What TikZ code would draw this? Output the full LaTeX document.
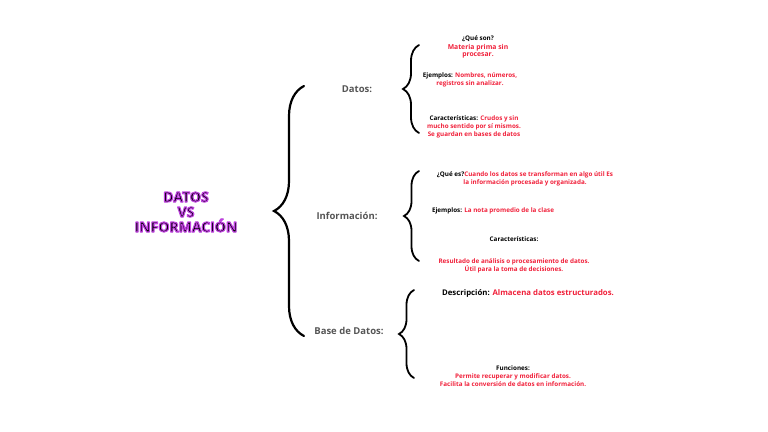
\documentclass[tikz,border=0pt]{standalone}
\usepackage{fontspec}
\setmainfont{Open Sans}
\usetikzlibrary{decorations.pathreplacing}
\definecolor{rd}{HTML}{F0203A}
\definecolor{gr}{HTML}{555555}
\definecolor{pu}{HTML}{C040E0}
\tikzset{
 br/.style={decorate,line width=2.2pt,line cap=round},
 sm/.style={font=\bfseries\fontsize{6.3}{7.8}\selectfont,align=center},
 lab/.style={font=\bfseries\fontsize{9.5}{11}\selectfont,text=gr},
 ttl/.style={font=\bfseries\fontsize{14}{15}\selectfont,align=center}
}
\newcommand{\outl}[1]{\special{pdf:literal direct q 1.1 w 1 j 2 Tr 0.75 0.25 0.88 RG 0 g}#1\special{pdf:literal direct 0 Tr Q}}
\begin{document}
\begin{tikzpicture}[x=1pt,y=-1pt]
\useasboundingbox (0,0) rectangle (768,431);
\node[ttl,text=black] (title) at (186,212) {\outl{DATOS}\\\outl{VS}\\\outl{INFORMACIÓN}};
% big brace
\draw[br,decoration={brace,amplitude=30pt,aspect=0.5}] (304,336) -- (304,86);
% small braces
\draw[br,line width=1.8pt,decoration={brace,amplitude=16pt}] (419,133) -- (419,45);
\draw[br,line width=1.8pt,decoration={brace,amplitude=15pt}] (419,261) -- (419,171);
\draw[br,line width=1.8pt,decoration={brace,amplitude=15pt}] (414,378) -- (414,290);
\node[lab] (d) at (357,89) {Datos:};
\node[lab] (i) at (347,216) {Información:};
\node[lab] (b) at (349,331) {Base de Datos:};
\node[sm] (q1) at (478,47) {¿Qué son?\\[1pt]\textcolor{rd}{\fontsize{6.8}{8.3}\selectfont Materia prima sin}\\\textcolor{rd}{\fontsize{6.8}{8.3}\selectfont procesar.}};
\node[sm] (e1) at (470,80) {Ejemplos: \textcolor{rd}{Nombres, números,}\\\textcolor{rd}{registros sin analizar.}};
\node[sm] (c1) at (474,127) {Características: \textcolor{rd}{Crudos y sin}\\\textcolor{rd}{mucho sentido por sí mismos.}\\\textcolor{rd}{Se guardan en bases de datos}};
\node[sm] (q2) at (525,179) {¿Qué es?\textcolor{rd}{Cuando los datos se transforman en algo útil Es}\\\textcolor{rd}{la información procesada y organizada.}};
\node[sm] (e2) at (493,211) {Ejemplos: \textcolor{rd}{La nota promedio de la clase}};
\node[sm] (c2) at (514,239) {Características:};
\node[sm] (r2) at (514,266) {\textcolor{rd}{Resultado de análisis o procesamiento de datos.}\\\textcolor{rd}{Útil para la toma de decisiones.}};
\node[sm,font=\bfseries\fontsize{7.8}{9}\selectfont] (d3) at (528,293) {Descripción: \textcolor{rd}{Almacena datos estructurados.}};
\node[sm] (f3) at (513,376) {Funciones:\\\textcolor{rd}{Permite recuperar y modificar datos.}\\\textcolor{rd}{Facilita la conversión de datos en información.}};
\end{tikzpicture}
\end{document}
